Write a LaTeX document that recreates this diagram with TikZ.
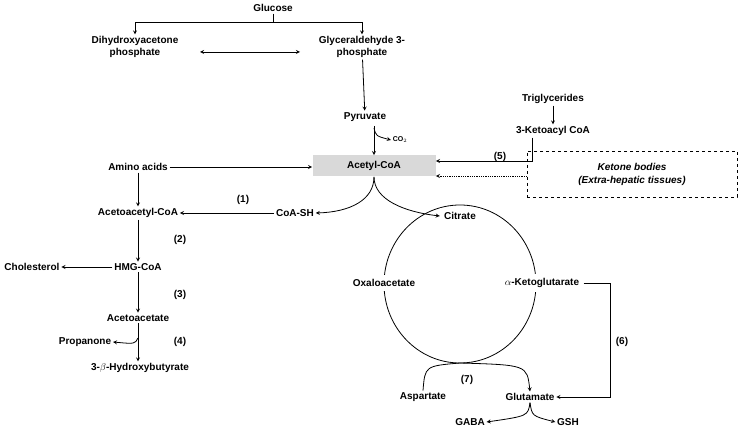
\documentclass[tikz,border=0pt]{standalone}
\usepackage{fontspec}
\setmainfont{Liberation Sans}
\begin{document}
\begin{tikzpicture}[x=1pt, y=-1pt, line width=0.8pt,
    lbl/.style={font=\fontsize{10}{12}\selectfont\bfseries, align=center, inner sep=1.5pt},
    arr/.style={-stealth}]

    \useasboundingbox (0, 0) rectangle (756, 427);

    % Krebs cycle
    \draw (460, 284) ellipse [x radius=76, y radius=79];

    \node [lbl] (glc) at (273, 8) {Glucose};
    \node [lbl] (dhap) at (135, 47) {Dihydroxyacetone\\phosphate};
    \node [lbl] (g3p) at (362, 47) {Glyceraldehyde 3-\\phosphate};
    \node [lbl] (pyr) at (365, 117) {Pyruvate};
    \node [lbl] (tg) at (553, 99) {Triglycerides};
    \node [lbl] (kac) at (553, 131) {3-Ketoacyl CoA};
    \node [lbl, fill=black!15, minimum width=123, minimum height=21] (acoa) at (374, 166) {Acetyl-CoA};
    \node [lbl, draw, dashed, line width=0.6pt, minimum width=210, minimum height=46, font=\fontsize{10}{13}\selectfont\bfseries\itshape] (ket) at (632, 174) {Ketone bodies\\(Extra-hepatic tissues)};
    \node [lbl] (aa) at (138, 167) {Amino acids};
    \node [lbl] (aacoa) at (138, 213) {Acetoacetyl-CoA};
    \node [lbl] (coash) at (295, 213) {CoA-SH};
    \node [lbl, fill=white, inner sep=4pt] (cit) at (460, 216) {Citrate};
    \node [lbl, fill=white, inner sep=4pt] (oaa) at (384, 283) {Oxaloacetate};
    \node [lbl, fill=white, inner sep=4pt] (akg) at (542, 283) {$\alpha$-Ketoglutarate};
    \node [lbl] (hmg) at (138, 267) {HMG-CoA};
    \node [lbl] (chol) at (32, 267) {Cholesterol};
    \node [lbl] (acac) at (138, 318) {Acetoacetate};
    \node [lbl] (prop) at (85, 342) {Propanone};
    \node [lbl] (hb) at (140, 368) {3-$\beta$-Hydroxybutyrate};
    \node [lbl] (asp) at (423, 397) {Aspartate};
    \node [lbl] (glu) at (530, 397) {Glutamate};
    \node [lbl] (gaba) at (470, 422) {GABA};
    \node [lbl] (gsh) at (568, 422) {GSH};

    \node [lbl] (co2) at (400, 140) {\scriptsize CO$_2$};
    \node [lbl] (n1) at (243, 200) {(1)};
    \node [lbl] (n2) at (180, 240) {(2)};
    \node [lbl] (n3) at (180, 295) {(3)};
    \node [lbl] (n4) at (180, 342) {(4)};
    \node [lbl] (n5) at (500, 157) {(5)};
    \node [lbl] (n6) at (622, 342) {(6)};
    \node [lbl] (n7) at (467, 380) {(7)};

    \coordinate (split) at (273, 22);
    \coordinate (ktl) at (532, 161);
    \coordinate (bot) at (460, 363);

    % glycolysis
    \draw (glc) -- (split);
    \draw [arr] (split) -| (dhap);
    \draw [arr] (split) -| (g3p);
    \draw [stealth-stealth] (200, 52) -- (300, 52);
    \draw [arr] (g3p) -- (pyr);
    \draw [arr] (374, 126) -- (acoa);
    \draw [arr] (374, 128) .. controls (376, 136) .. (co2.west);

    % fatty acids and ketone bodies
    \draw [arr] (tg) -- (kac);
    \draw [arr] (kac.south -| ktl) -- (ktl) -- (acoa.east |- ktl);
    \draw [arr, densely dotted] (ket.west |- 0, 176) -- (acoa.east |- 0, 176);
    \draw [arr] (aa) -- (acoa.west |- aa);

    % ketogenesis
    \draw [arr] (acoa.south) .. controls (374, 200) and (350, 212) .. (coash.east);
    \draw [arr] (acoa.south) .. controls (374, 200) and (405, 212) .. (cit.west);
    \draw [arr] (coash) -- (aacoa);
    \draw [arr] (aa) -- (aacoa);
    \draw [arr] (aacoa) -- (hmg);
    \draw [arr] (hmg) -- (chol);
    \draw [arr] (hmg) -- (acac);
    \draw (acac.south) -- (138, 340);
    \draw [arr] (138, 340) -- (hb.north -| 138, 0);
    \draw [arr] (138, 338) .. controls (135, 344) .. (prop.east);

    % transamination
    \draw [arr] (akg.east) -- (610, 283) |- (glu.east);
    \draw (asp.north) .. controls (425, 366) .. (bot);
    \draw [arr] (bot) .. controls (527, 365) .. (glu.north);
    \draw [arr] (glu.south) .. controls (528, 416) .. (gaba.east);
    \draw [arr] (glu.south) .. controls (532, 416) .. (gsh.west);

\end{tikzpicture}
\end{document}
